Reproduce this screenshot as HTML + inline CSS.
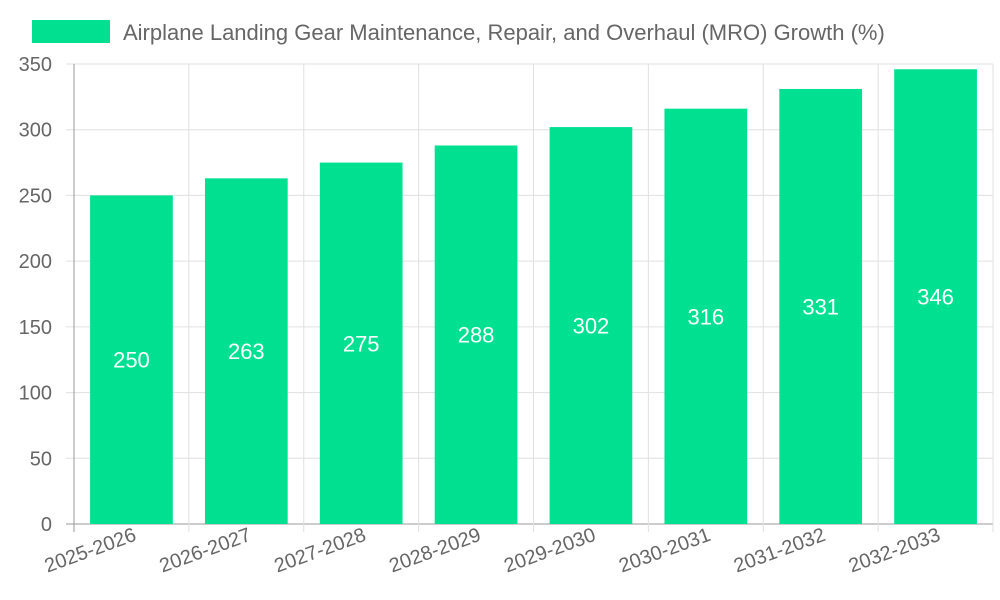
<!DOCTYPE html>
<html><head><meta charset="utf-8"><style>
html,body{margin:0;padding:0;background:#fff;}
svg{display:block;font-family:"Liberation Sans",sans-serif;}
</style></head><body>
<svg id="chart" width="1000" height="600" viewBox="0 0 1000 600">
<g>
<rect x="32" y="20" width="78" height="23" fill="#00e091"/>
<text x="123" y="40" font-size="22" fill="#666">Airplane Landing Gear Maintenance, Repair, and Overhaul (MRO) Growth (%)</text>
</g>
<g id="grid"></g><g id="bars"></g><g id="axes"></g>
</svg>
<script>
const categories=["2025-2026","2026-2027","2027-2028","2028-2029","2029-2030","2030-2031","2031-2032","2032-2033"];
const values=[250,263,275,288,302,316,331,346];
const yTicks=[0,50,100,150,200,250,300,350];
const NS="http://www.w3.org/2000/svg";
const L=74,R=993,T=64,B=524,yMax=350;
const bw=(R-L)/categories.length;
const y=v=>B-(v/yMax)*(B-T);
const x=i=>L+i*bw;
function mk(t,a,p){const e=document.createElementNS(NS,t);for(const k in a)e.setAttribute(k,a[k]);p.appendChild(e);return e;}
const grid=document.getElementById('grid'),bars=document.getElementById('bars'),axes=document.getElementById('axes');
yTicks.forEach(v=>{
  const g=mk('line',{x1:66,x2:R,y1:y(v),y2:y(v),stroke:v===0?'#999':'#e0e0e0','stroke-width':1},grid);
  
  
  const t=mk('text',{x:52,y:y(v)+7,'text-anchor':'end','font-size':20,fill:'#666'},axes);
  t.textContent=v;
  
  
});
for(let i=0;i<=categories.length;i++){
  const g=mk('line',{x1:x(i),x2:x(i),y1:T,y2:B+8,stroke:i===0?'#999':'#e0e0e0','stroke-width':1},grid);
  
  
}
categories.forEach((c,i)=>{
  const cx=x(i)+bw/2,w=bw*0.72;
  const r=mk('rect',{x:cx-w/2,y:y(values[i]),width:w,height:B-y(values[i]),fill:'#00e091'},bars);
  
  
  const lt=mk('text',{x:cx,y:(y(values[i])+B)/2+8,'text-anchor':'middle','font-size':22,fill:'#fff'},bars);
  lt.textContent=values[i];
  
  
  const xt=mk('text',{x:cx+6,y:540,'text-anchor':'end','font-size':20,fill:'#666',transform:`rotate(-20 ${cx+6} 540)`},axes);
  xt.textContent=c;
  
  
});
</script>
</body></html>
